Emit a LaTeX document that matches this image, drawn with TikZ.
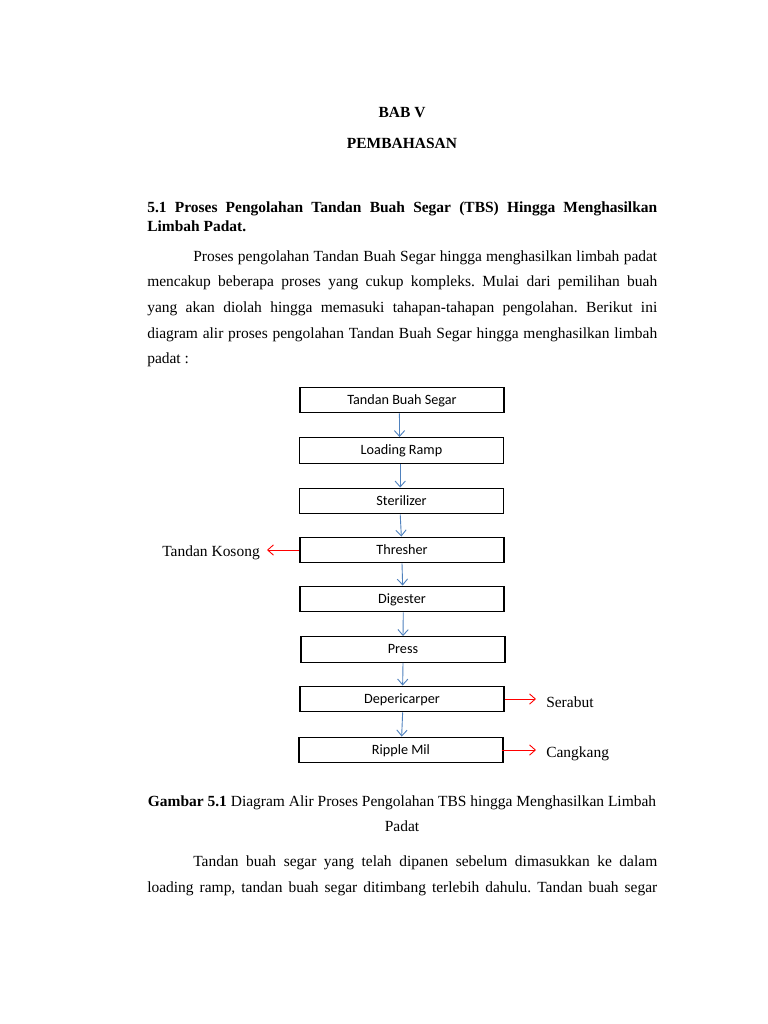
\documentclass[tikz,border=0pt]{standalone}
\usepackage{fontspec}
\setmainfont{Liberation Serif}
\newfontfamily\calibrifont{Carlito}
\usetikzlibrary{arrows.meta,positioning}
\definecolor{alirbiru}{RGB}{79,129,189}
\definecolor{limbahmerah}{RGB}{255,0,0}
\newcommand{\rata}[2]{\makebox[#1][s]{#2}}
\frenchspacing

\begin{document}
\begin{tikzpicture}[x=0.775pt,y=-0.775pt]
	\tikzset{
		prosesbox/.style={%
			draw,
			line width=0.9pt,
			inner sep=0pt,
			minimum width=158pt,
			minimum height=20pt,
			text height=8pt,
			text depth=1.4pt,
			font=\calibrifont\fontsize{11}{13}\selectfont},
		teks/.style={anchor=base west, inner sep=0pt, font=\fontsize{12}{14}\selectfont},
		tengah/.style={anchor=base, inner sep=0pt, font=\fontsize{12}{14}\selectfont}
	}

	\tikzstyle{alir_style} = [draw=alirbiru, line width=0.7pt, -{Straight Barb[length=4.5pt,width=8pt]}]
	\tikzstyle{limbah_style} = [draw=limbahmerah, line width=0.7pt, -{Straight Barb[length=4.5pt,width=8pt]}]

	\useasboundingbox (0,0) rectangle (768,1024);
	\fill[white] (0,0) rectangle (768,1024);

	% judul bab
	\node[tengah] (bab) at (402, 117) {\textbf{BAB V}};
	\node[tengah] (bahas) at (402, 148) {\textbf{PEMBAHASAN}};

	% sub bab
	\node[teks] (sub1) at (147, 212) {\rata{395.25pt}{\textbf{5.1 Proses Pengolahan Tandan Buah Segar (TBS) Hingga Menghasilkan}}};
	\node[teks] (sub2) at (147, 231) {\textbf{Limbah Padat.}};

	% paragraf pembuka
	\node[teks] (p1) at (193, 261) {\rata{359.6pt}{Proses pengolahan Tandan Buah Segar hingga menghasilkan limbah padat}};
	\node[teks] (p2) at (147, 286) {\rata{395.25pt}{mencakup beberapa proses yang cukup kompleks. Mulai dari pemilihan buah}};
	\node[teks] (p3) at (147, 312) {\rata{395.25pt}{yang akan diolah hingga memasuki tahapan-tahapan pengolahan. Berikut ini}};
	\node[teks] (p4) at (147, 338) {\rata{395.25pt}{diagram alir proses pengolahan Tandan Buah Segar hingga menghasilkan limbah}};
	\node[teks] (p5) at (147, 363) {padat :};

	% diagram alir
	\node[prosesbox] (tbs) at (402, 400) {Tandan Buah Segar};
	\node[prosesbox] (loading) at (401.5, 450.5) {Loading Ramp};
	\node[prosesbox] (steril) at (401.5, 501) {Sterilizer};
	\node[prosesbox] (thresher) at (402, 550) {Thresher};
	\node[prosesbox] (digester) at (402, 599) {Digester};
	\node[prosesbox] (press) at (403, 649.5) {Press};
	\node[prosesbox] (deperi) at (402, 699) {Depericarper};
	\node[prosesbox] (ripple) at (401, 750) {Ripple Mil};

	\draw[alir_style] ([xshift=-2pt]tbs.south) -- ([xshift=-1.5pt]loading.north);
	\draw[alir_style] ([xshift=-1pt]loading.south) -- ([xshift=-1pt]steril.north);
	\draw[alir_style] ([xshift=-1pt]steril.south) -- ([xshift=-0.5pt]thresher.north);
	\draw[alir_style] (thresher.south) -- ([xshift=0.5pt]digester.north);
	\draw[alir_style] ([xshift=1pt]digester.south) -- (press.north);
	\draw[alir_style] (press.south) -- ([xshift=0.5pt]deperi.north);
	\draw[alir_style] ([xshift=0.5pt]deperi.south) -- ([xshift=0.5pt]ripple.north);

	% limbah padat
	\node[teks, anchor=base east] (kosong) at (260, 556) {Tandan Kosong};
	\node[teks] (serabut) at (546, 707) {Serabut};
	\node[teks] (cangkang) at (546, 757) {Cangkang};

	\coordinate (ujungkosong) at (267, 551);
	\coordinate (ujungserabut) at (536, 700);
	\coordinate (ujungcangkang) at (536, 750);

	\draw[limbah_style] (thresher.west) -- (thresher.west -| ujungkosong);
	\draw[limbah_style] (deperi.east) -- (deperi.east -| ujungserabut);
	\draw[limbah_style] ([xshift=-1.5pt]ripple.east) -- (ripple.east -| ujungcangkang);

	% keterangan gambar
	\node[tengah] (gambar1) at (402, 806) {\textbf{Gambar 5.1} Diagram Alir Proses Pengolahan TBS hingga Menghasilkan Limbah};
	\node[tengah] (gambar2) at (402, 831) {Padat};

	% paragraf lanjutan
	\node[teks] (q1) at (193, 866) {\rata{359.6pt}{Tandan buah segar yang telah dipanen sebelum dimasukkan ke dalam}};
	\node[teks] (q2) at (147, 892) {\rata{395.25pt}{loading ramp, tandan buah segar ditimbang terlebih dahulu. Tandan buah segar}};

\end{tikzpicture}
\end{document}
